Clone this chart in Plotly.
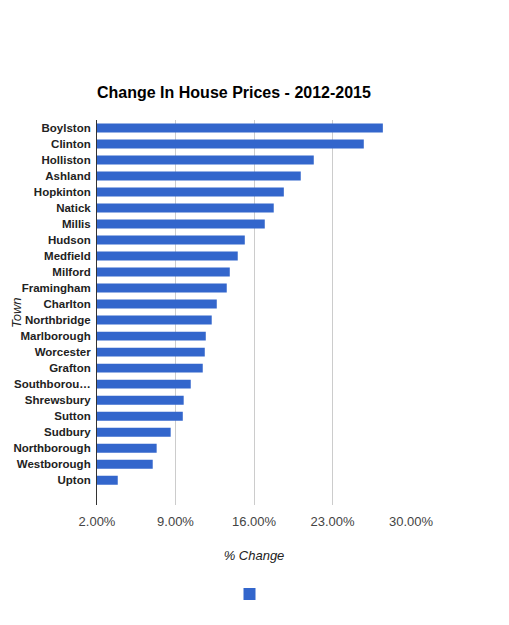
import plotly.graph_objects as go

# towns, top to bottom as in the chart
towns = ["Boylston", "Clinton", "Holliston", "Ashland", "Hopkinton", "Natick",
         "Millis", "Hudson", "Medfield", "Milford", "Framingham", "Charlton",
         "Northbridge", "Marlborough", "Worcester", "Grafton", "Southborough",
         "Shrewsbury", "Sutton", "Sudbury", "Northborough", "Westborough", "Upton"]
town_labels = ["Boylston", "Clinton", "Holliston", "Ashland", "Hopkinton", "Natick",
               "Millis", "Hudson", "Medfield", "Milford", "Framingham", "Charlton",
               "Northbridge", "Marlborough", "Worcester", "Grafton", "Southborou…",
               "Shrewsbury", "Sutton", "Sudbury", "Northborough", "Westborough", "Upton"]
pct_change = [27.49, 25.79, 21.33, 20.17, 18.66, 17.76, 16.96, 15.18, 14.55, 13.84,
              13.57, 12.68, 12.23, 11.70, 11.61, 11.43, 10.36, 9.73, 9.65, 8.57,
              7.32, 6.97, 3.85]
x_ticks = [2, 9, 16, 23, 30]

font = "Liberation Sans, Arial, sans-serif"

# page body has an 8px margin, so the figure is a bit smaller than the window
W, H = 501, 617
L, R, T, B = 89, 98, 112, 120
plot_w = W - L - R

fig = go.Figure()
fig.add_trace(go.Bar(
    x=pct_change,
    y=towns,
    orientation="h",
    name=" ",
    marker=dict(color="#3366cc", line=dict(width=0)),
    width=0.56,
    hoverinfo="x+y",
    showlegend=True,
))

fig.update_xaxes(
    range=[2, 30],
    tickvals=x_ticks,
    ticktext=[f"{v:.2f}%" for v in x_ticks],
    showgrid=True,
    gridcolor="#cccccc",
    gridwidth=1,
    zeroline=False,
    showline=False,
    ticks="",
    automargin=False,
    ticklabelstandoff=7,
    tickfont=dict(family=font, size=13, color="#444444"),
    title=dict(text="<i>% Change</i>", font=dict(family=font, size=13, color="#222222"),
               standoff=22),
)
fig.update_yaxes(
    categoryorder="array",
    categoryarray=towns,
    tickvals=towns,
    ticktext=[f"<b>{t}</b>" for t in town_labels],
    range=[23.55, -0.5],
    showgrid=False,
    showline=True,
    linecolor="#333333",
    linewidth=1,
    ticks="",
    automargin=False,
    ticklabelstandoff=3,
    tickfont=dict(family=font, size=11.5, color="#222222"),
)

# y axis title sits at the far left edge
fig.add_annotation(
    text="<i>Town</i>", textangle=-90,
    xref="paper", yref="paper", x=-L / plot_w, y=0.5,
    xanchor="left", yanchor="middle", showarrow=False, borderpad=0,
    font=dict(family=font, size=13, color="#222222"),
)

fig.update_layout(
    width=W,
    height=H,
    paper_bgcolor="white",
    plot_bgcolor="white",
    margin=dict(l=L, r=R, t=T, b=B, autoexpand=False),
    title=dict(text="<b>Change In House Prices - 2012-2015</b>",
               font=dict(family=font, size=16, color="#000000"),
               x=L / W, xanchor="left", y=1 - 84 / H, yanchor="middle"),
    legend=dict(orientation="h", x=0.5, xanchor="center", y=-0.231, yanchor="middle",
                font=dict(family=font, size=13), itemwidth=30),
    bargap=0.44,
)

fig.write_html("out.html")
